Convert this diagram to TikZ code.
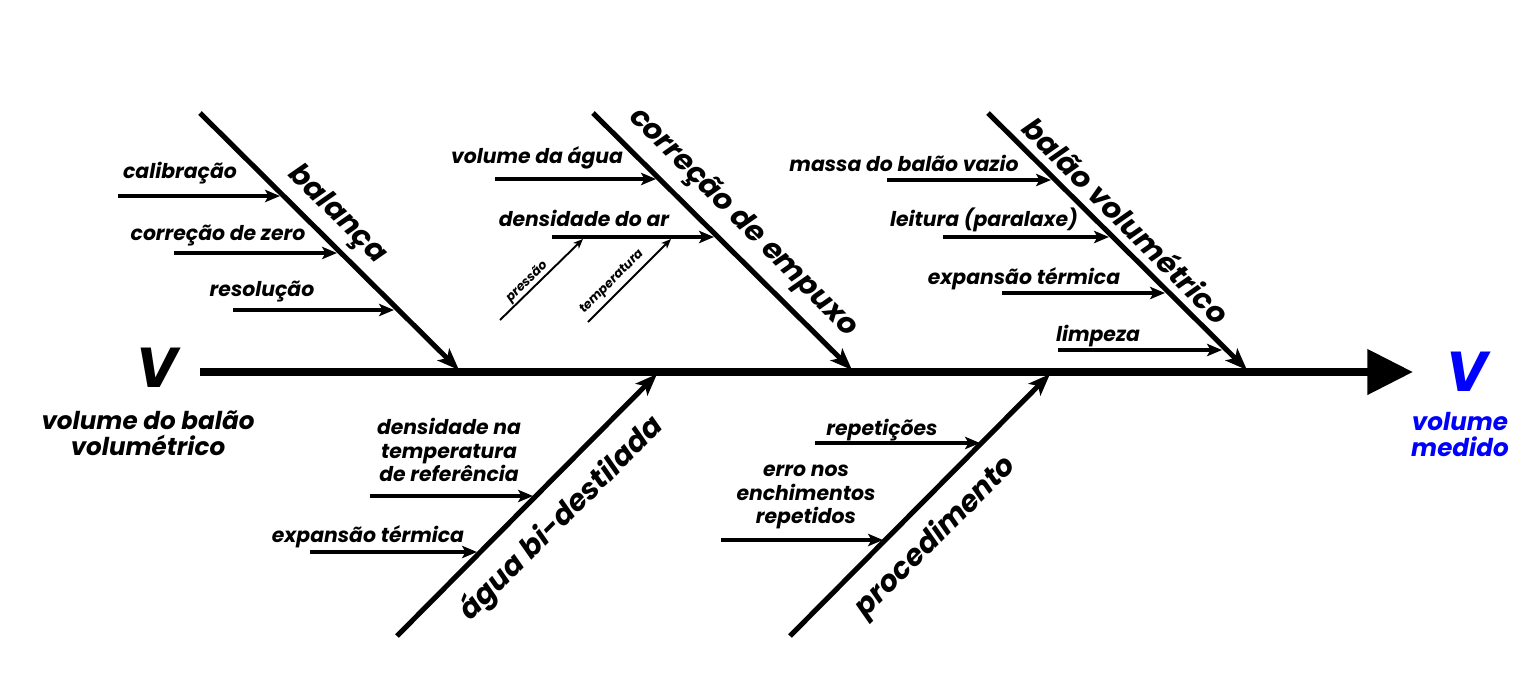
\documentclass[tikz,border=0pt]{standalone}
\usepackage{fontspec}
\setmainfont{Poppins}
\usepackage{tikz}
\usetikzlibrary{arrows.meta, positioning, calc}
\definecolor{vblue}{HTML}{0000FF}

\begin{document}
\begin{tikzpicture}[
  x=0.02cm, y=-0.02cm,
  spine/.style={line width=4.5pt, -{Triangle[length=26pt, width=25pt]}},
  bone/.style={line width=2.9pt, -{Stealth[length=12.5pt, width=9.5pt, inset=3pt]}},
  cause/.style={line width=2pt, -{Stealth[length=8.5pt, width=7pt, inset=2pt]}},
  minor/.style={line width=1.1pt, -{Stealth[length=5.5pt, width=4.5pt, inset=1.5pt]}},
  bonelbl/.style={inner sep=0pt, font=\fontsize{16.6}{18}\selectfont\bfseries\itshape},
  causelbl/.style={inner sep=0pt, align=center, font=\fontsize{11.6}{13.6}\selectfont\bfseries\itshape},
  minorlbl/.style={inner sep=0pt, font=\fontsize{7.2}{8}\selectfont\bfseries\itshape},
  endlbl/.style={inner sep=0pt, align=center, font=\fontsize{14}{14.8}\selectfont\bfseries\itshape}
]
  \useasboundingbox (0,0) rectangle (1536,680);

  % Spine and effect
  \node[inner sep=0pt, font=\fontsize{32}{32}\selectfont\bfseries\itshape] (vin) at (157,368) {V};
  \node[endlbl] (vinlbl) at (148,433) {volume do balão\\volumétrico};
  \node[inner sep=0pt, text=vblue, font=\fontsize{32}{32}\selectfont\bfseries\itshape] (vout) at (1467,372) {V};
  \node[endlbl, text=vblue] (voutlbl) at (1460,434) {volume\\medido};
  \coordinate (sp0) at (200,372);
  \coordinate (sp1) at (1413,372);
  \draw[spine] (sp0) -- (sp1);

  % Balanca
  \coordinate (bal0) at (200,113);
  \coordinate (bal1) at (459,370);
  \draw[bone] (bal0) -- (bal1);
  \node[bonelbl, rotate=-45] (ballbl) at (337,215) {balança};
  \coordinate (cal0) at (118,196);  \coordinate (cal1) at (280,196);
  \coordinate (zer0) at (174,253);  \coordinate (zer1) at (337,253);
  \coordinate (res0) at (233,310);  \coordinate (res1) at (394,310);
  \draw[cause] (cal0) -- (cal1);
  \draw[cause] (zer0) -- (zer1);
  \draw[cause] (res0) -- (res1);
  \node[causelbl] (callbl) at (180,173) {calibração};
  \node[causelbl] (zerlbl) at (218,236) {correção de zero};
  \node[causelbl] (reslbl) at (262,292) {resolução};

  % Correcao de empuxo
  \coordinate (emp0) at (593,113);
  \coordinate (emp1) at (852,370);
  \draw[bone] (emp0) -- (emp1);
  \node[bonelbl, rotate=-45] (emplbl) at (743,223) {correção de empuxo};
  \coordinate (vag0) at (495,179);  \coordinate (vag1) at (656,179);
  \coordinate (dar0) at (552,237);  \coordinate (dar1) at (714,237);
  \draw[cause] (vag0) -- (vag1);
  \draw[cause] (dar0) -- (dar1);
  \node[causelbl] (vaglbl) at (537,158) {volume da água};
  \node[causelbl] (darlbl) at (584,218) {densidade do ar};
  \coordinate (pre0) at (500,320);  \coordinate (pre1) at (583,239);
  \coordinate (tem0) at (588,322);  \coordinate (tem1) at (671,239);
  \draw[minor] (pre0) -- (pre1);
  \draw[minor] (tem0) -- (tem1);
  \node[minorlbl, rotate=45] (prelbl) at (527,282) {pressão};
  \node[minorlbl, rotate=45] (temlbl) at (612,282) {temperatura};

  % Balao volumetrico
  \coordinate (bvo0) at (988,113);
  \coordinate (bvo1) at (1247,370);
  \draw[bone] (bvo0) -- (bvo1);
  \node[bonelbl, rotate=-45] (bvolbl) at (1127,220) {balão volumétrico};
  \coordinate (mas0) at (887,180);  \coordinate (mas1) at (1051,180);
  \coordinate (lei0) at (943,237);  \coordinate (lei1) at (1109,237);
  \coordinate (exb0) at (1002,293); \coordinate (exb1) at (1165,293);
  \coordinate (lim0) at (1058,350); \coordinate (lim1) at (1222,350);
  \draw[cause] (mas0) -- (mas1);
  \draw[cause] (lei0) -- (lei1);
  \draw[cause] (exb0) -- (exb1);
  \draw[cause] (lim0) -- (lim1);
  \node[causelbl] (maslbl) at (904,163) {massa do balão vazio};
  \node[causelbl] (leilbl) at (984,220) {leitura (paralaxe)};
  \node[causelbl] (exblbl) at (1024,279) {expansão térmica};
  \node[causelbl] (limlbl) at (1098,336) {limpeza};

  % Agua bi-destilada
  \coordinate (agu0) at (397,636);
  \coordinate (agu1) at (657,374);
  \draw[bone] (agu0) -- (agu1);
  \node[bonelbl, rotate=45] (agulbl) at (562,519) {água bi-destilada};
  \coordinate (den0) at (370,496);  \coordinate (den1) at (533,496);
  \coordinate (exa0) at (310,552);  \coordinate (exa1) at (477,552);
  \draw[cause] (den0) -- (den1);
  \draw[cause] (exa0) -- (exa1);
  \node[causelbl] (denlbl) at (449,450) {densidade na\\temperatura\\de referência};
  \node[causelbl] (exalbl) at (368,537) {expansão térmica};

  % Procedimento
  \coordinate (pro0) at (790,636);
  \coordinate (pro1) at (1050,374);
  \draw[bone] (pro0) -- (pro1);
  \node[bonelbl, rotate=45] (prolbl) at (936,537) {procedimento};
  \coordinate (rep0) at (815,443);  \coordinate (rep1) at (980,443);
  \coordinate (err0) at (721,540);  \coordinate (err1) at (883,540);
  \draw[cause] (rep0) -- (rep1);
  \draw[cause] (err0) -- (err1);
  \node[causelbl] (replbl) at (882,430) {repetições};
  \node[causelbl] (errlbl) at (806,497) {erro nos\\enchimentos\\repetidos};

\end{tikzpicture}
\end{document}
